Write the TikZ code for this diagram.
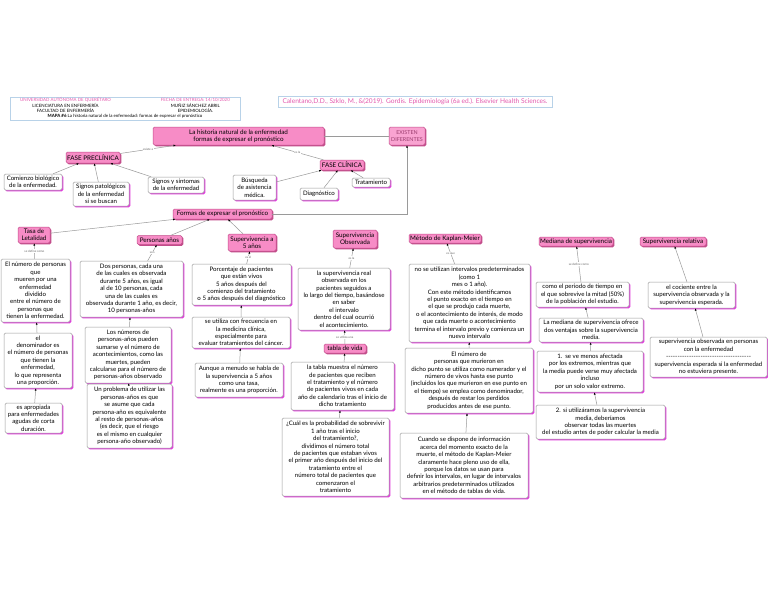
\documentclass[tikz,border=0pt]{standalone}
\usepackage{fontspec}
\setmainfont{Lato}
\usetikzlibrary{arrows.meta,positioning,shadows}
\definecolor{mappink}{HTML}{F78CC6}
\definecolor{mappinkdark}{HTML}{C24C8A}
\definecolor{mapshadow}{HTML}{E03CDC}
\definecolor{mapgray}{HTML}{9A9A9A}
\definecolor{mapblue}{HTML}{B8D2E8}
\definecolor{maptitle}{HTML}{E45AAE}

\begin{document}
\begin{tikzpicture}[>=Latex, x=1pt, y=-1pt, font=\fontsize{6.1}{7.4}\selectfont]
  \tikzset{
    concept/.style={draw=mapgray, fill=white, rounded corners=1.5pt, align=center, inner sep=1pt, line width=0.5pt,
      drop shadow={shadow xshift=1.3pt, shadow yshift=-1.3pt, fill=mapshadow, opacity=1}},
    topic/.style={draw=mappinkdark, fill=mappink, rounded corners=1.5pt, align=center, inner sep=1pt, line width=0.5pt,
      font=\fontsize{6.3}{7.4}\selectfont, drop shadow={shadow xshift=1.3pt, shadow yshift=-1.3pt, fill=mappinkdark, opacity=1}},
    dims/.style 2 args={minimum width=#1, minimum height=#2},
    link/.style={draw=mapgray, line width=0.5pt, -{Latex[length=2.4pt,width=2pt,color=black]}},
    linklabel/.style={font=\fontsize{3}{3.5}\selectfont, text=black!60, fill=white, inner sep=0.5pt},
  }
  \useasboundingbox[fill=white] (0,0) rectangle (768,594);

  % header and reference
  \node[draw=mapblue, fill=white, line width=0.6pt, dims={230}{23}, inner sep=0.5pt, font=\fontsize{4.4}{5.2}\selectfont] (header) at (125,108.5)
    {\begin{tabular}{@{}c@{\hspace{50pt}}c@{}}
      \textcolor{maptitle}{UNIVERSIDAD AUTÓNOMA DE QUERÉTARO} & \textcolor{maptitle}{FECHA DE ENTREGA: 14/10/2020}\\
      LICENCIATURA EN ENFERMERÍA & MUÑIZ SÁNCHEZ ABRIL\\
      FACULTAD DE ENFERMERÍA & EPIDEMIOLOGÍA.\\
      \multicolumn{2}{c}{\textbf{MAPA \#6} La historia natural de la enfermedad: formas de expresar el pronóstico}
    \end{tabular}};
  \node[draw=mapblue, fill=white, line width=0.6pt, dims={274}{11}, inner sep=0.5pt, text=maptitle, font=\fontsize{6.6}{7}\selectfont] (ref) at (415,101.5)
    {Calentano,D.D., Szklo, M., \&(2019). Gordis. Epidemiología (6a ed.). Elsevier Health Sciences.};

  % top levels
  \node[topic, dims={171}{18}] (main) at (238.5,136) {La historia natural de la enfermedad\\formas de expresar el pronóstico};
  \node[topic, dims={36}{18}, fill=mappink!80, text=mappinkdark!80!black, font=\fontsize{5.4}{6.8}\selectfont] (existen) at (407,136) {EXISTEN\\DIFERENTES};
  \node[topic, dims={54}{11}] (preclin) at (93,157.5) {FASE PRECLÍNICA};
  \node[topic, dims={44}{10}] (clin) at (342,165) {FASE CLÍNICA};
  \node[concept, dims={58}{16}] (comienzo) at (33,182) {Comienzo biológico\\de la enfermedad.};
  \node[concept, dims={56}{24}] (signospat) at (101,194) {Signos patológicos\\de la enfermedad\\si se buscan};
  \node[concept, dims={56}{16}] (signossint) at (176,185) {Signos y síntomas\\de la enfermedad};
  \node[concept, dims={43}{25}] (busqueda) at (254.5,187.5) {Búsqueda\\de asistencia\\médica.};
  \node[concept, dims={38}{12}] (diagn) at (319,194) {Diagnóstico};
  \node[concept, dims={38}{9}] (trat) at (371,182.5) {Tratamiento};
  \node[topic, dims={99}{10}] (formas) at (222.5,214) {Formas de expresar el pronóstico};

  % forms
  \node[topic, dims={32}{16}] (tasa) at (34,235) {Tasa de\\Letalidad};
  \node[topic, dims={45}{9}] (persanos) at (159.5,240) {Personas años};
  \node[topic, dims={48}{17}] (sup5) at (252,242.5) {Supervivencia a\\5 años};
  \node[topic, dims={44}{18}] (supobs) at (355,239) {Supervivencia\\Observada};
  \node[topic, dims={72}{9}] (kaplan) at (445,238.5) {Método de Kaplan-Meier};
  \node[topic, dims={74}{9}] (mediana) at (576,241.5) {Mediana de supervivencia};
  \node[topic, dims={66}{9}] (relativa) at (673,241.5) {Supervivencia relativa};

  % tasa de letalidad
  \node[concept, dims={69}{63}] (letdef) at (35.5,290.5) {El número de personas\\que\\mueren por una\\enfermedad\\dividido\\entre el número de\\personas que\\tienen la enfermedad.};
  \node[concept, dims={68}{55}] (letden) at (38,360.5) {el\\denominador es\\el número de personas\\que tienen la\\enfermedad,\\lo que representa\\una proporción.};
  \node[concept, dims={57}{30}] (letapr) at (33.5,418) {es apropiada\\para enfermedades\\agudas de corta\\duración.};

  % personas años
  \node[concept, dims={103}{56}] (pa1) at (131.5,289) {Dos personas, cada una\\de las cuales es observada\\durante 5 años, es igual\\al de 10 personas, cada\\una de las cuales es\\observada durante 1 año, es decir,\\10 personas-años};
  \node[concept, dims={86}{56}] (pa2) at (128,355) {Los números de\\personas-años pueden\\sumarse y el número de\\acontecimientos, como las\\muertes, pueden\\calcularse para el número de\\personas-años observado};
  \node[concept, dims={85}{64}] (pa3) at (129.5,416) {Un problema de utilizar las\\personas-años es que\\se asume que cada\\persona-año es equivalente\\al resto de personas-años\\(es decir, que el riesgo\\es el mismo en cualquier\\persona-año observado)};

  % supervivencia a 5 anos
  \node[concept, dims={99}{41}] (s5a) at (241.5,284.5) {Porcentaje de pacientes\\que están vivos\\5 años después del\\comienzo del tratamiento\\o 5 años después del diagnóstico};
  \node[concept, dims={98}{31}] (s5b) at (241,332.5) {se utiliza con frecuencia en\\la medicina clínica,\\especialmente para\\evaluar tratamientos del cáncer.};
  \node[concept, dims={88}{34}] (s5c) at (239,380) {Aunque a menudo se habla de\\la supervivencia a 5 años\\como una tasa,\\realmente es una proporción.};

  % supervivencia observada
  \node[concept, dims={92}{62}] (so1) at (344,299) {la supervivencia real\\observada en los\\pacientes seguidos a\\lo largo del tiempo, basándose\\en saber\\el intervalo\\dentro del cual ocurrió\\el acontecimiento.};
  \node[topic, dims={42}{9}] (tabla) at (345,348.5) {tabla de vida};
  \node[concept, dims={103}{48}] (so2) at (342.5,386) {la tabla muestra el número\\de pacientes que reciben\\el tratamiento y el número\\de pacientes vivos en cada\\año de calendario tras el inicio de\\dicho tratamiento};
  \node[concept, dims={107}{78}] (so3) at (335.5,457) {¿Cuál es la probabilidad de sobrevivir\\1 año tras el inicio\\del tratamiento?,\\dividimos el número total\\de pacientes que estaban vivos\\el primer año después del inicio del\\tratamiento entre el\\número total de pacientes que\\comenzaron el\\tratamiento};

  % kaplan-meier
  \node[concept, dims={121}{78}] (km1) at (469.5,303) {no se utilizan intervalos predeterminados\\(como 1\\mes o 1 año).\\Con este método identificamos\\el punto exacto en el tiempo en\\el que se produjo cada muerte,\\o el acontecimiento de interés, de modo\\que cada muerte o acontecimiento\\termina el intervalo previo y comienza un\\nuevo intervalo};
  \node[concept, dims={128}{65}] (km2) at (469,380.5) {El número de\\personas que murieron en\\dicho punto se utiliza como numerador y el\\número de vivos hasta ese punto\\(incluidos los que murieron en ese punto en\\el tiempo) se emplea como denominador,\\después de restar los perdidos\\producidos antes de ese punto.};
  \node[concept, dims={128}{65}] (km3) at (464,465.5) {Cuando se dispone de información\\acerca del momento exacto de la\\muerte, el método de Kaplan-Meier\\claramente hace pleno uso de ella,\\porque los datos se usan para\\definir los intervalos, en lugar de intervalos\\arbitrarios predeterminados utilizados\\en el método de tablas de vida.};

  % mediana
  \node[concept, dims={93}{25}] (m1) at (582.5,294.5) {como el periodo de tiempo en\\el que sobrevive la mitad (50\%)\\de la población del estudio.};
  \node[concept, dims={104}{24}] (m2) at (591,330) {La mediana de supervivencia ofrece\\dos ventajas sobre la supervivencia\\media.};
  \node[concept, dims={106}{41}] (m3) at (590,371.5) {1.\enspace se ve menos afectada\\por los extremos, mientras que\\la media puede verse muy afectada\\incluso\\por un solo valor extremo.};
  \node[concept, dims={129}{34}] (m4) at (600.5,422) {2. si utilizáramos la supervivencia\\media, deberíamos\\observar todas las muertes\\del estudio antes de poder calcular la media};

  % relativa
  \node[concept, dims={87}{26}] (r1) at (691.5,295) {el cociente entre la\\supervivencia observada y la\\supervivencia esperada.};
  \node[concept, dims={117}{40}] (r2) at (708.5,357) {supervivencia observada en personas\\con la enfermedad\\\hbox to 85pt{\xleaders\hbox{-}\hfill}\\supervivencia esperada si la enfermedad\\no estuviera presente.};

  % connectors
  \draw[draw=mapgray, line width=0.5pt] (main) -- (existen);
  \draw[link] (preclin) -- node[linklabel] {existe a} (main);
  \draw[link] (clin) -- node[linklabel] {es la} (main);
  \draw[link] (comienzo) -- (preclin);
  \draw[link] (signospat) -- (preclin);
  \draw[link] (signossint) -- (preclin);
  \draw[link] (busqueda) -- (clin);
  \draw[link] (diagn) -- (clin);
  \draw[link] (trat) -- (clin);
  \draw[link] (formas.east) -- (formas.east -| existen.south) -- (existen.south);
  \draw[link] (tasa) -- (formas);
  \draw[link] (persanos) -- (formas);
  \draw[link] (sup5) -- (formas);

  \draw[link] (letdef) -- node[linklabel] {se define como} (tasa);
  \draw[link] (letden) -- (letdef);
  \draw[link] (letapr) -- (letden);
  \draw[link] (pa1) -- node[linklabel] {son} (persanos);
  \draw[link] (pa2) -- (pa1);
  \draw[link] (pa3) -- (pa2);
  \draw[link] (s5a) -- node[linklabel] {es el} (sup5);
  \draw[link] (s5b) -- (s5a);
  \draw[link] (s5c) -- (s5b);
  \draw[link] (so1) -- node[linklabel] {es la} (supobs);
  \draw[link] (tabla) -- node[linklabel] {se utiliza una} (so1);
  \draw[link] (so2) -- (tabla);
  \draw[link] (so3) -- (so2);
  \draw[link] (km1) -- node[linklabel] {es que} (kaplan);
  \draw[link] (km2) -- (km1);
  \draw[link] (km3) -- (km2);
  \draw[link] (m1) -- node[linklabel] {se define como} (mediana);
  \draw[link] (m2) -- (m1);
  \draw[link] (m3) -- (m2);
  \draw[link] (m4) -- (m3);
  \draw[link] (r1) -- (relativa);
  \draw[link] (r2) -- (r1);
\end{tikzpicture}
\end{document}
